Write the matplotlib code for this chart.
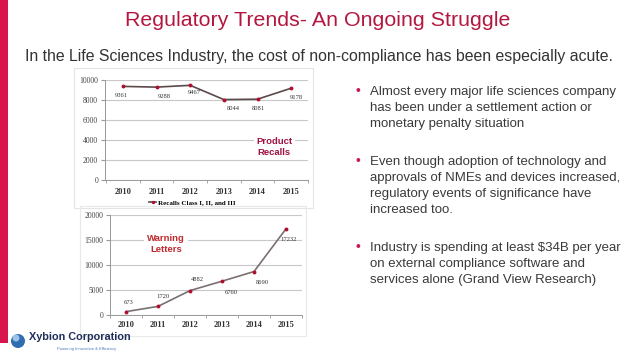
import numpy as np
import matplotlib
matplotlib.use("Agg")
import matplotlib.pyplot as plt
from matplotlib.patches import Rectangle, Circle

# --- data ---
years = ['2010', '2011', '2012', '2013', '2014', '2015']
recalls = [9361, 9288, 9467, 8044, 8081, 9178]
warning_letters = [673, 1720, 4882, 6760, 8690, 17232]

title = "Regulatory Trends- An Ongoing Struggle"
subtitle = "In the Life Sciences Industry, the cost of non-compliance has been especially acute."
bullets = [
    ["Almost every major life sciences company",
     "has been under a settlement action or",
     "monetary penalty situation"],
    ["Even though adoption of technology and",
     "approvals of NMEs and devices increased,",
     "regulatory events of significance have",
     "increased too."],
    ["Industry is spending at least $34B per year",
     "on external compliance software and",
     "services alone (Grand View Research)"],
]

W, H = 638, 359
crimson = '#c8174a'
title_red = '#b3173f'
serif = ['Liberation Serif', 'DejaVu Serif']
sans = ['Liberation Sans', 'DejaVu Sans']

fig = plt.figure(figsize=(W / 100, H / 100), dpi=100)
fig.patch.set_facecolor('white')


def px_axes(x0, y0, x1, y1):
    # axes from pixel box (top-left origin)
    return fig.add_axes([x0 / W, 1 - y1 / H, (x1 - x0) / W, (y1 - y0) / H])


# background layer for slide decorations
bg = fig.add_axes([0, 0, 1, 1])
bg.set_xlim(0, W)
bg.set_ylim(H, 0)
bg.axis('off')
bg.add_patch(Rectangle((0, 0), 8, 343, color='#d8164c', lw=0))
bg.text(125, 21, title, color=title_red, fontsize=15.4, family=sans, va='center', ha='left')
bg.text(25, 57, subtitle, color='#333333', fontsize=11.4, family=sans, va='center', ha='left')

# chart frames
bg.add_patch(Rectangle((74, 68), 239, 140, fill=False, ec='#e4e4e4', lw=0.8))
bg.add_patch(Rectangle((80, 206), 226, 130, fill=False, ec='#e8e8e8', lw=0.8))

# bullets
y = 92
for block in bullets:
    bg.text(355, y - 1, u"\u2022", color=crimson, fontsize=10, family=sans, va='center', ha='left')
    for line in block:
        bg.text(370, y, line, color='#3a3a3a', fontsize=9.5, family=sans, va='center', ha='left')
        y += 16
    y += 22

# logo
bg.add_patch(Circle((18, 341), 7, color='#2f6fb0', lw=0))
bg.add_patch(Circle((16, 338), 3.5, color='#9cc4e8', lw=0))
bg.text(29, 337, "Xybion Corporation", color='#1f2f5a', fontsize=7.8, fontweight='bold',
        family=sans, va='center', ha='left')
bg.text(57, 349, "Powering Innovation & Efficiency", color='#4a7fc0', fontsize=3.0,
        family=sans, va='center', ha='left')


def style_chart(ax, ymax, step, xlim, pad):
    x = np.arange(len(years))
    ax.set_xlim(*xlim)
    ax.set_ylim(0, ymax)
    ax.set_yticks(np.arange(0, ymax + 1, step))
    ax.set_xticks(x)
    ax.set_xticks(np.arange(-0.5, len(years) + 0.5, 1), minor=True)
    ax.set_xticklabels(years, family=serif, fontsize=6, fontweight='bold', color='#333333')
    for lab in ax.get_yticklabels():
        lab.set_family(serif)
        lab.set_fontsize(5.5)
        lab.set_color('#444444')
    ax.tick_params(axis='x', which='major', length=0, pad=pad)
    ax.tick_params(axis='x', which='minor', length=2, color='#999999')
    ax.tick_params(axis='y', length=3, color='#999999', pad=2)
    ax.yaxis.grid(True, color='#c8c8c8', linewidth=0.8)
    ax.set_axisbelow(True)
    for s in ['top', 'right']:
        ax.spines[s].set_visible(False)
    ax.spines['left'].set_color('#999999')
    ax.spines['bottom'].set_color('#999999')
    ax.spines['left'].set_linewidth(0.7)
    ax.spines['bottom'].set_linewidth(0.7)
    ax.patch.set_alpha(0)


# --- chart 1: product recalls ---
ax1 = px_axes(105, 80, 308, 180)
x = np.arange(len(years))
ax1.plot(x, recalls, color='#5a4a4a', lw=1.2, marker='o', ms=1.8,
         mfc='#b01030', mec='#b01030', label='Recalls Class I, II, and III')
style_chart(ax1, 10000, 2000, (-0.53, 5.47), 6)
offs1 = [(-2, -9), (8, -9), (4, -7), (9, -9), (1, -9), (5, -9)]
for xi, v, off in zip(x, recalls, offs1):
    ax1.annotate(str(v), (xi, v), xytext=off, textcoords='offset pixels',
                 fontsize=4.7, family=serif, color='#333333', ha='center', va='center')
ax1.text(4.5, 3300, "Product\nRecalls", color='#a01040', fontsize=6.8, fontweight='bold',
         family=sans, ha='center', va='center', linespacing=1.3,
         bbox=dict(fc='white', ec='none', pad=2))
ax1.legend(loc='upper center', bbox_to_anchor=(0.43, -0.13), frameon=False,
           prop={'family': serif, 'size': 5, 'weight': 'bold'}, handlelength=1.0,
           handletextpad=0.2, markerscale=0.8)

# --- chart 2: warning letters ---
ax2 = px_axes(110, 215, 302, 315)
ax2.plot(x, warning_letters, color='#7a7070', lw=1.2, marker='o', ms=1.8,
         mfc='#b01030', mec='#b01030')
style_chart(ax2, 20000, 5000, (-0.39, 5.36), 4)
offs2 = [(3, 9), (5, 10), (7, 11), (9, -11), (8, -11), (3, -11)]
for xi, v, off in zip(x, warning_letters, offs2):
    ax2.annotate(str(v), (xi, v), xytext=off, textcoords='offset pixels',
                 fontsize=4.7, family=serif, color='#333333', ha='center', va='center')
ax2.text(1.25, 14200, "Warning\nLetters", color='#c0282d', fontsize=6.8, fontweight='bold',
         family=sans, ha='center', va='center', linespacing=1.3,
         bbox=dict(fc='white', ec='none', pad=2))

fig.savefig('out.png', dpi=100)
